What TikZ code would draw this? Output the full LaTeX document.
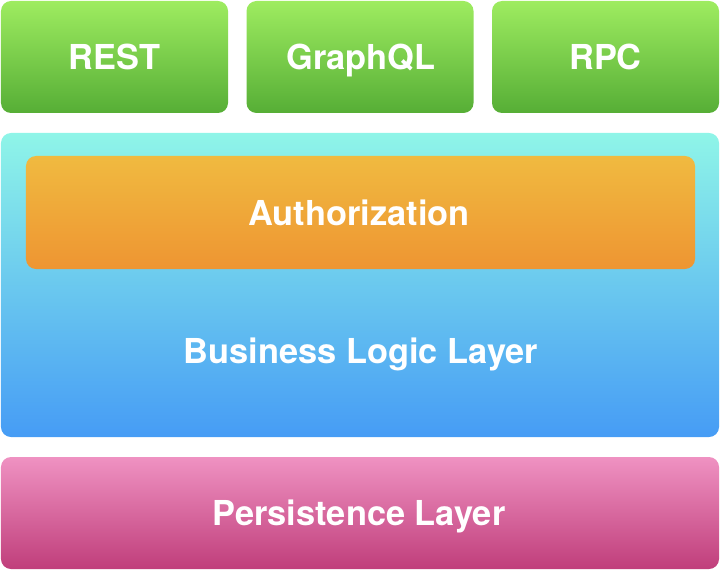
\documentclass[tikz,border=0pt]{standalone}
\usepackage{fontspec}
\setmainfont{TeX Gyre Heros}
\usepackage{tikz}

\definecolor{greentop}{HTML}{9EEC60}
\definecolor{greenbot}{HTML}{56AE36}
\definecolor{cyantop}{HTML}{8FF5E8}
\definecolor{bluebot}{HTML}{469CF5}
\definecolor{orangetop}{HTML}{F0BA40}
\definecolor{orangebot}{HTML}{EE9532}
\definecolor{pinktop}{HTML}{EF92C2}
\definecolor{pinkbot}{HTML}{C03E7B}

\tikzset{
  layer/.style={rectangle, rounded corners=10bp, inner sep=0pt},
  api/.style={layer, minimum width=227bp, minimum height=112bp,
    top color=greentop, bottom color=greenbot},
  caption/.style={anchor=base, inner sep=0pt, text=white,
    font=\fontsize{34.5}{40}\selectfont\bfseries}
}

\begin{document}
\begin{tikzpicture}[x=1bp,y=-1bp]
        \useasboundingbox (0,0) rectangle (720,571);
        \node[api] (rest) at (114.5,57) {};
        \node[api] (graphql) at (360,57) {};
        \node[api] (rpc) at (605.5,57) {};
        \node[caption] (rest text) at (114.5,70) {REST};
        \node[caption] (graphql text) at (361,70) {GraphQL};
        \node[caption] (rpc text) at (605.5,70) {RPC};
        \node[layer, minimum width=718bp, minimum height=304bp,
              top color=cyantop, bottom color=bluebot] (bll) at (360,285) {};
        \node[layer, minimum width=669bp, minimum height=113bp,
              top color=orangetop, bottom color=orangebot] (auth) at (360.5,212.5) {};
        \node[caption] (auth text) at (359,225) {Authorization};
        \node[caption] (bll text) at (361,363) {Business Logic Layer};
        \node[layer, minimum width=718bp, minimum height=112bp,
              top color=pinktop, bottom color=pinkbot] (persist) at (360,513) {};
        \node[caption] (persist text) at (359,525) {Persistence Layer};
    \end{tikzpicture}
\end{document}
